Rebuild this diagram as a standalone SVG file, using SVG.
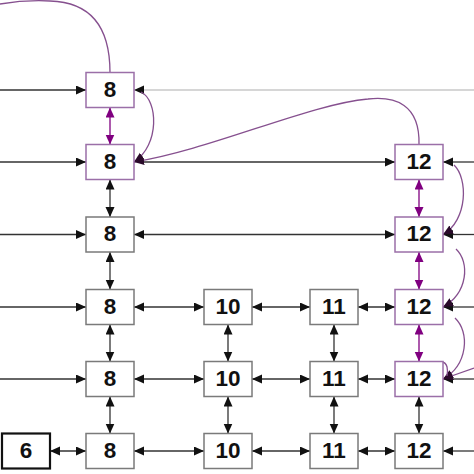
<svg xmlns="http://www.w3.org/2000/svg" width="474" height="474" viewBox="0 0 474 474">
<defs>
<style>
.box{fill:#fff;stroke:#7a7a7a;stroke-width:1.5}
.pbox{fill:#fff;stroke:#9b6fa8;stroke-width:1.5}
.bbox{fill:#fff;stroke:#111;stroke-width:2.2}
.t{font-family:"Liberation Sans",Arial,sans-serif;font-weight:bold;font-size:22.5px;fill:#111;text-anchor:middle}
.l{stroke:#333;stroke-width:1.3;fill:none}
.g{stroke:#c8c8c8;stroke-width:1.5;fill:none}
.p{stroke:#86508f;stroke-width:1.3;fill:none}
.pv{stroke:#800080;stroke-width:1.3;fill:none}
.a{marker-end:url(#ab)}
.ab{marker-start:url(#ab);marker-end:url(#ab)}
.pp{marker-start:url(#ap);marker-end:url(#ap)}
.pd{marker-end:url(#apd)}
</style>
<marker id="ab" markerUnits="userSpaceOnUse" markerWidth="11" markerHeight="10" refX="10" refY="4.5" orient="auto-start-reverse"><path d="M0,0 L10,4.5 L0,9 z" fill="#111"/></marker>
<marker id="ap" markerUnits="userSpaceOnUse" markerWidth="11" markerHeight="10" refX="10" refY="4.5" orient="auto-start-reverse"><path d="M0,0 L10,4.5 L0,9 z" fill="#800080"/></marker>
<marker id="apd" markerUnits="userSpaceOnUse" markerWidth="11" markerHeight="10" refX="10" refY="4.5" orient="auto-start-reverse"><path d="M0,0 L10,4.5 L0,9 z" fill="#2a0a2a"/></marker>
</defs>
<g id="connectors">
<path class="l a" d="M0,90 H86"/>
<path class="l a" d="M0,162 H86"/>
<path class="l a" d="M0,234.5 H86"/>
<path class="l a" d="M0,307 H86"/>
<path class="l a" d="M0,379 H86"/>
<path class="g a" d="M474,90 H134"/>
<path class="l a" d="M140,162 H395"/>
<path class="l a" d="M474,162 H443"/>
<path class="l ab" d="M134,234.5 H395"/>
<path class="l a" d="M474,234.5 H443"/>
<path class="l ab" d="M134,307 H204"/>
<path class="l ab" d="M252,307 H310"/>
<path class="l ab" d="M358,307 H395"/>
<path class="l a" d="M474,307 H443"/>
<path class="l ab" d="M134,379 H204"/>
<path class="l ab" d="M252,379 H310"/>
<path class="l ab" d="M358,379 H395"/>
<path class="l a" d="M474,379 H443"/>
<path class="l ab" d="M50,451 H86"/>
<path class="l ab" d="M134,451 H204"/>
<path class="l ab" d="M252,451 H310"/>
<path class="l ab" d="M358,451 H395"/>
<path class="l a" d="M474,451 H443"/>
<path class="pv pp" d="M110,107.5 V144.5"/>
<path class="l ab" d="M110,179.5 V217"/>
<path class="l ab" d="M110,252 V289.5"/>
<path class="l ab" d="M110,324.5 V361.5"/>
<path class="l ab" d="M110,396.5 V433.5"/>
<path class="l ab" d="M228,324.5 V361.5"/>
<path class="l ab" d="M228,396.5 V433.5"/>
<path class="l ab" d="M334,324.5 V361.5"/>
<path class="l ab" d="M334,396.5 V433.5"/>
<path class="pv pp" d="M419,179.5 V217"/>
<path class="pv pp" d="M419,252 V289.5"/>
<path class="pv pp" d="M419,324.5 V361.5"/>
<path class="l ab" d="M419,396.5 V433.5"/>
<path class="p" d="M110,72.5 C110,20 85,2 50,1 C30,0 12,2 0,4"/>
<path class="p pd" d="M141,92 C158,100 160,145 134,162"/>
<path class="p pd" d="M419,144.5 C420,104 395,96 368,99 C310,104 210,150 134,162"/>
<path class="p pd" d="M454,165 C468,178 468,220 443,234.5"/>
<path class="p pd" d="M456,249 C470,262 468,293 443,307"/>
<path class="p pd" d="M455,318 C470,332 468,365 443,379"/>
<path class="p pd" d="M474,368 L443,379"/>
<path class="p" d="M441,362 C448,362 448,370 447,376"/>
</g>
<g id="n_row1_8"><rect class="pbox" x="86" y="72.5" width="48" height="35"/><text class="t" x="110" y="96.5">8</text></g>
<g id="n_row2_8"><rect class="pbox" x="86" y="144.5" width="48" height="35"/><text class="t" x="110" y="168.5">8</text></g>
<g id="n_row2_12"><rect class="pbox" x="395" y="144.5" width="48" height="35"/><text class="t" x="419" y="168.5">12</text></g>
<g id="n_row3_8"><rect class="box" x="86" y="217" width="48" height="35"/><text class="t" x="110" y="241">8</text></g>
<g id="n_row3_12"><rect class="pbox" x="395" y="217" width="48" height="35"/><text class="t" x="419" y="241">12</text></g>
<g id="n_row4_8"><rect class="box" x="86" y="289.5" width="48" height="35"/><text class="t" x="110" y="313.5">8</text></g>
<g id="n_row4_10"><rect class="box" x="204" y="289.5" width="48" height="35"/><text class="t" x="228" y="313.5">10</text></g>
<g id="n_row4_11"><rect class="box" x="310" y="289.5" width="48" height="35"/><text class="t" x="334" y="313.5">11</text></g>
<g id="n_row4_12"><rect class="pbox" x="395" y="289.5" width="48" height="35"/><text class="t" x="419" y="313.5">12</text></g>
<g id="n_row5_8"><rect class="box" x="86" y="361.5" width="48" height="35"/><text class="t" x="110" y="385.5">8</text></g>
<g id="n_row5_10"><rect class="box" x="204" y="361.5" width="48" height="35"/><text class="t" x="228" y="385.5">10</text></g>
<g id="n_row5_11"><rect class="box" x="310" y="361.5" width="48" height="35"/><text class="t" x="334" y="385.5">11</text></g>
<g id="n_row5_12"><rect class="pbox" x="395" y="361.5" width="48" height="35"/><text class="t" x="419" y="385.5">12</text></g>
<g id="n_row6_6"><rect class="bbox" x="2" y="433.5" width="48" height="35"/><text class="t" x="26" y="457.5">6</text></g>
<g id="n_row6_8"><rect class="box" x="86" y="433.5" width="48" height="35"/><text class="t" x="110" y="457.5">8</text></g>
<g id="n_row6_10"><rect class="box" x="204" y="433.5" width="48" height="35"/><text class="t" x="228" y="457.5">10</text></g>
<g id="n_row6_11"><rect class="box" x="310" y="433.5" width="48" height="35"/><text class="t" x="334" y="457.5">11</text></g>
<g id="n_row6_12"><rect class="box" x="395" y="433.5" width="48" height="35"/><text class="t" x="419" y="457.5">12</text></g>
</svg>
